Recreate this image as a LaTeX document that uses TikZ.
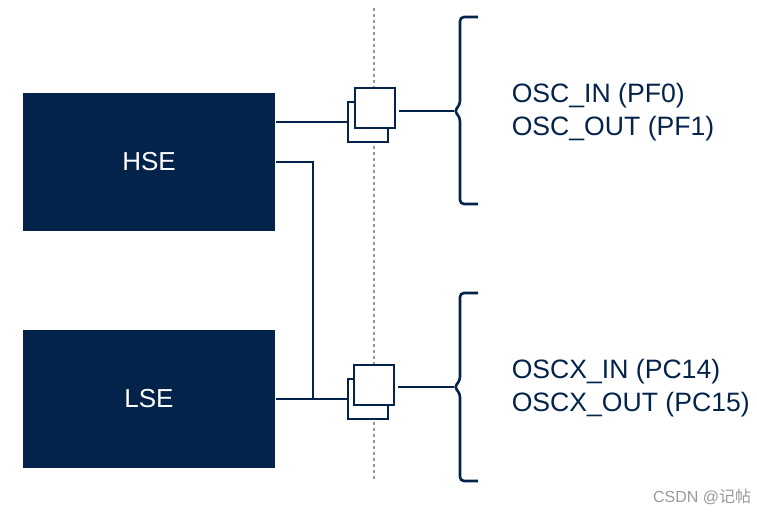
\documentclass[tikz,border=0pt]{standalone}
\usepackage{fontspec}
\setmainfont{Liberation Sans}
\newfontfamily\cjk{Noto Sans CJK SC}
\usepackage{xcolor}
\usetikzlibrary{positioning}
\definecolor{stnavy}{RGB}{3,35,75}
\definecolor{guidegray}{RGB}{150,150,155}
\begin{document}
\begin{tikzpicture}[x=0.5pt, y=-0.5pt, thick]
    \tikzstyle{osc} = [rectangle, fill=stnavy, text=white, minimum width=126pt, minimum height=69pt, inner sep=0pt, font=\fontsize{13}{15}\selectfont]
    \tikzstyle{pad} = [rectangle, draw=stnavy, fill=white, line width=0.8pt, minimum size=20pt, inner sep=0pt]
    \tikzstyle{wire} = [draw=stnavy, line width=1.3pt]
    \tikzstyle{brace} = [draw=stnavy, line width=1.3pt, rounded corners=2pt]
    \tikzstyle{pins} = [anchor=west, align=left, text=stnavy, inner sep=0pt, font=\fontsize{13.3}{16.5}\selectfont]

    \useasboundingbox (0,0) rectangle (757,511);

    % dotted chip border
    \draw [guidegray, line width=0.6pt, dash pattern=on 1.5pt off 1.5pt] (374,8) -- (374,482);

    \node [osc] (hse) at (149,162) {HSE};
    \node [osc] (lse) at (149,399) {LSE};

    \node [pad] (padback1) at (368,122) {};
    \node [pad] (padfront1) at (375,108) {};
    \node [pad] (padback2) at (368,399) {};
    \node [pad] (padfront2) at (374,385) {};

    \coordinate (tip1) at (454,111);
    \coordinate (tip2) at (454,387);

    \path [wire] (hse.east |- padback1.west) -- (padback1.west);
    \path [wire] (lse.east) -- (padback2.west);
    \path [wire] (hse.east) -| (313,399);
    \path [wire] ([xshift=1.5pt]padfront1.east |- tip1) -- (tip1);
    \path [wire] ([xshift=1.5pt]padfront2.east |- tip2) -- (tip2);

    % braces
    \draw [brace] (478,17) -- (460,17) -- (460,105) -- (tip1) -- (460,117) -- (460,204) -- (478,204);
    \draw [brace] (478,293) -- (460,293) -- (460,381) -- (tip2) -- (460,393) -- (460,481) -- (478,481);

    \node [pins] (pins1) at (511,112) {OSC\_IN (PF0)\\OSC\_OUT (PF1)};
    \node [pins] (pins2) at (511,388) {OSCX\_IN (PC14)\\OSCX\_OUT (PC15)};

    \node [anchor=east, text=gray!80, inner sep=0pt, font=\fontsize{8}{9}\selectfont] (mark) at (752,497) {CSDN @{\cjk 记帖}};
\end{tikzpicture}
\end{document}
